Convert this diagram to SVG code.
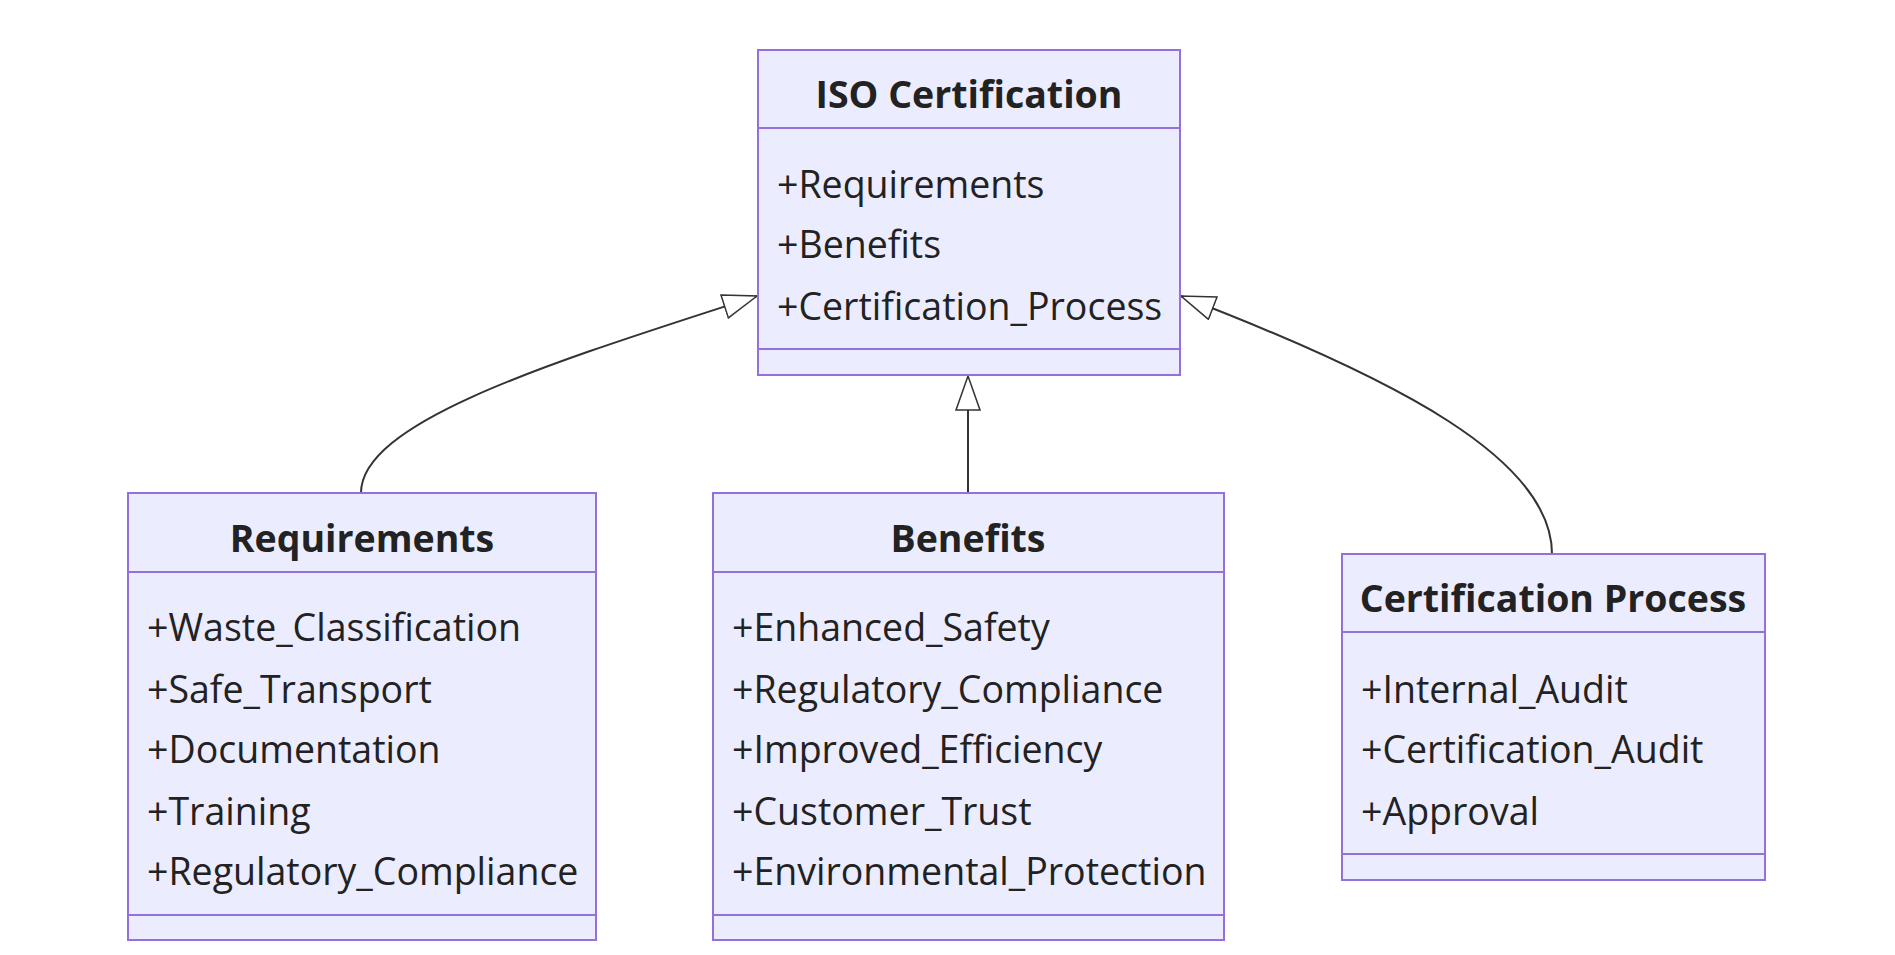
<svg xmlns="http://www.w3.org/2000/svg" width="1895" height="955" viewBox="0 0 1895 955">
<style>
.box{fill:#ECECFF;stroke:#9370DB;stroke-width:2}
.ln{stroke:#9370DB;stroke-width:2}
.t{font-family:"Open Sans","DejaVu Sans",sans-serif;font-size:37.5px;fill:#222;dominant-baseline:central}
.h{font-weight:bold;text-anchor:middle}
.e{fill:none;stroke:#333;stroke-width:2;marker-end:url(#tri)}
</style>
<defs>
<marker id="tri" viewBox="0 0 36 26" refX="35" refY="13" markerWidth="36" markerHeight="26" markerUnits="userSpaceOnUse" orient="auto">
<path d="M1,1 L35,13 L1,25 Z" fill="#fff" stroke="#333" stroke-width="1.5"/>
</marker>
</defs>
<rect width="1895" height="955" fill="#fff"/>
<g id="edges">
<path class="e" d="M361,493 C361,420 560,360 757,296"/>
<path class="e" d="M968,493 L968,376"/>
<path class="e" d="M1552,554 C1552,460 1400,380 1181,296"/>
</g>
<g id="iso">
<rect class="box" x="758" y="50" width="422" height="325"/>
<line class="ln" x1="758" y1="128" x2="1180" y2="128"/>
<line class="ln" x1="758" y1="349" x2="1180" y2="349"/>
<text class="t h" x="969" y="93">ISO Certification</text>
<text class="t" x="777" y="183">+Requirements</text>
<text class="t" x="777" y="243">+Benefits</text>
<text class="t" x="777" y="305">+Certification_Process</text>
</g>
<g id="requirements">
<rect class="box" x="128" y="493" width="468" height="447"/>
<line class="ln" x1="128" y1="572" x2="596" y2="572"/>
<line class="ln" x1="128" y1="915" x2="596" y2="915"/>
<text class="t h" x="362" y="537">Requirements</text>
<text class="t" x="147" y="626">+Waste_Classification</text>
<text class="t" x="147" y="688">+Safe_Transport</text>
<text class="t" x="147" y="748">+Documentation</text>
<text class="t" x="147" y="810">+Training</text>
<text class="t" x="147" y="870">+Regulatory_Compliance</text>
</g>
<g id="benefits">
<rect class="box" x="713" y="493" width="511" height="447"/>
<line class="ln" x1="713" y1="572" x2="1224" y2="572"/>
<line class="ln" x1="713" y1="915" x2="1224" y2="915"/>
<text class="t h" x="968" y="537">Benefits</text>
<text class="t" x="732" y="626">+Enhanced_Safety</text>
<text class="t" x="732" y="688">+Regulatory_Compliance</text>
<text class="t" x="732" y="748">+Improved_Efficiency</text>
<text class="t" x="732" y="810">+Customer_Trust</text>
<text class="t" x="732" y="870">+Environmental_Protection</text>
</g>
<g id="process">
<rect class="box" x="1342" y="554" width="423" height="326"/>
<line class="ln" x1="1342" y1="632" x2="1765" y2="632"/>
<line class="ln" x1="1342" y1="854" x2="1765" y2="854"/>
<text class="t h" x="1553" y="597">Certification Process</text>
<text class="t" x="1361" y="688">+Internal_Audit</text>
<text class="t" x="1361" y="748">+Certification_Audit</text>
<text class="t" x="1361" y="810">+Approval</text>
</g>
</svg>
